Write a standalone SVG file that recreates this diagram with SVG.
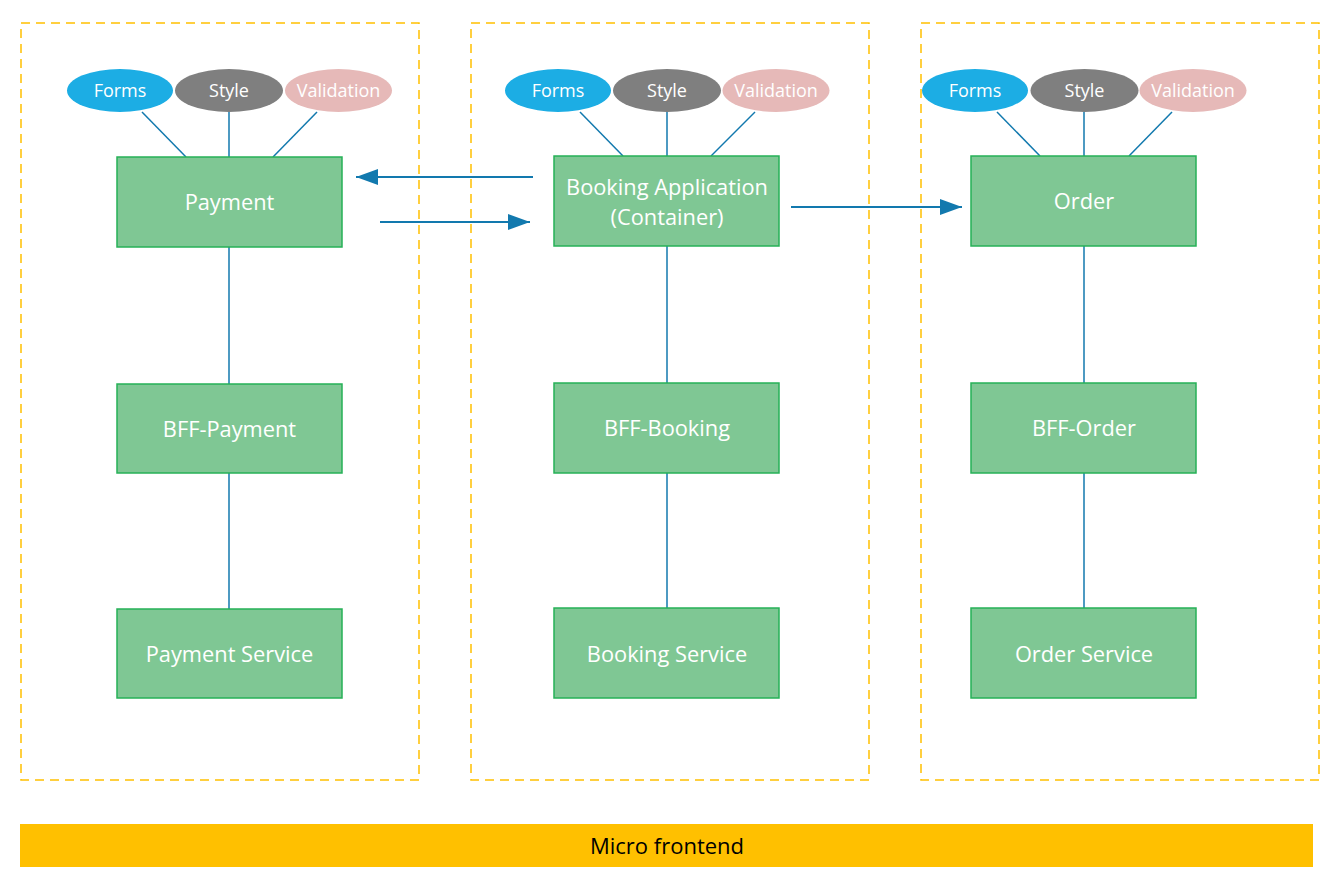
<svg xmlns="http://www.w3.org/2000/svg" width="1334" height="888" viewBox="0 0 1334 888">
<defs>
<marker id="ah" viewBox="0 0 22 16" refX="22" refY="8" markerWidth="22" markerHeight="16" markerUnits="userSpaceOnUse" orient="auto">
<path d="M0,0 L22,8 L0,16 Z" fill="#1279AE"/>
</marker>
<style>
.zone{fill:none;stroke:#FFC000;stroke-width:1.5;stroke-dasharray:9 6}
.box{fill:#7FC794;stroke:#26B157;stroke-width:1.5}
.bt{font-family:"Open Sans",Lato,"Liberation Sans",sans-serif;font-size:21.8px;fill:#FFFFFF;text-anchor:middle}
.et{font-family:"Open Sans",Lato,"Liberation Sans",sans-serif;font-size:18px;fill:#FFFFFF;text-anchor:middle}
.forms{fill:#1CADE4}
.style{fill:#7F7F7F}
.valid{fill:#E6B9B8}
.ln{stroke:#1279AE;stroke-width:1.5;fill:none}
.arr{stroke:#1279AE;stroke-width:2;fill:none;marker-end:url(#ah)}
</style>
</defs>
<rect width="1334" height="888" fill="#FFFFFF"/>
<g id="zones">
<rect class="zone" x="21" y="23" width="398" height="757"/>
<rect class="zone" x="471" y="23" width="398" height="757"/>
<rect class="zone" x="921" y="23" width="398" height="757"/>
</g>
<g id="connectors">
<line class="ln" x1="142" y1="112" x2="186" y2="157"/>
<line class="ln" x1="229" y1="112" x2="229" y2="157"/>
<line class="ln" x1="317" y1="112" x2="273" y2="157"/>
<line class="ln" x1="580" y1="112" x2="623" y2="156"/>
<line class="ln" x1="667" y1="112" x2="667" y2="156"/>
<line class="ln" x1="755" y1="112" x2="711" y2="156"/>
<line class="ln" x1="997" y1="112" x2="1040" y2="156"/>
<line class="ln" x1="1084" y1="112" x2="1084" y2="156"/>
<line class="ln" x1="1172" y1="112" x2="1129" y2="156"/>
<line class="ln" x1="229" y1="247" x2="229" y2="384"/>
<line class="ln" x1="229" y1="473" x2="229" y2="609"/>
<line class="ln" x1="667" y1="246" x2="667" y2="383"/>
<line class="ln" x1="667" y1="473" x2="667" y2="608"/>
<line class="ln" x1="1084" y1="246" x2="1084" y2="383"/>
<line class="ln" x1="1084" y1="473" x2="1084" y2="608"/>
<line class="arr" x1="533" y1="177" x2="356" y2="177"/>
<line class="arr" x1="380" y1="222" x2="530" y2="222"/>
<line class="arr" x1="791" y1="207" x2="962" y2="207"/>
</g>
<g id="payment-forms"><ellipse class="forms" cx="120" cy="90.5" rx="53" ry="21.5"/><text class="et" x="120" y="97">Forms</text></g>
<g id="payment-style"><ellipse class="style" cx="229" cy="90.5" rx="54" ry="21.5"/><text class="et" x="229" y="97">Style</text></g>
<g id="payment-validation"><ellipse class="valid" cx="338.5" cy="90.5" rx="53.5" ry="21.5"/><text class="et" x="338.5" y="97">Validation</text></g>
<g id="booking-forms"><ellipse class="forms" cx="558" cy="90.5" rx="53" ry="21.5"/><text class="et" x="558" y="97">Forms</text></g>
<g id="booking-style"><ellipse class="style" cx="667" cy="90.5" rx="54" ry="21.5"/><text class="et" x="667" y="97">Style</text></g>
<g id="booking-validation"><ellipse class="valid" cx="776" cy="90.5" rx="53.5" ry="21.5"/><text class="et" x="776" y="97">Validation</text></g>
<g id="order-forms"><ellipse class="forms" cx="975" cy="90.5" rx="53" ry="21.5"/><text class="et" x="975" y="97">Forms</text></g>
<g id="order-style"><ellipse class="style" cx="1084.5" cy="90.5" rx="54" ry="21.5"/><text class="et" x="1084.5" y="97">Style</text></g>
<g id="order-validation"><ellipse class="valid" cx="1193" cy="90.5" rx="53.5" ry="21.5"/><text class="et" x="1193" y="97">Validation</text></g>
<g id="payment"><rect class="box" x="117" y="157" width="225" height="90"/><text class="bt" x="229.5" y="210">Payment</text></g>
<g id="bff-payment"><rect class="box" x="117" y="384" width="225" height="89"/><text class="bt" x="229.5" y="437">BFF-Payment</text></g>
<g id="payment-service"><rect class="box" x="117" y="609" width="225" height="89"/><text class="bt" x="229.5" y="662">Payment Service</text></g>
<g id="booking-app"><rect class="box" x="554" y="156" width="225" height="90"/><text class="bt" x="667" y="195">Booking Application</text><text class="bt" x="667" y="225">(Container)</text></g>
<g id="bff-booking"><rect class="box" x="554" y="383" width="225" height="90"/><text class="bt" x="667" y="436">BFF-Booking</text></g>
<g id="booking-service"><rect class="box" x="554" y="608" width="225" height="90"/><text class="bt" x="667" y="662">Booking Service</text></g>
<g id="order"><rect class="box" x="971" y="156" width="225" height="90"/><text class="bt" x="1084" y="209">Order</text></g>
<g id="bff-order"><rect class="box" x="971" y="383" width="225" height="90"/><text class="bt" x="1084" y="436">BFF-Order</text></g>
<g id="order-service"><rect class="box" x="971" y="608" width="225" height="90"/><text class="bt" x="1084" y="662">Order Service</text></g>
<g id="micro-frontend"><rect x="20" y="824" width="1293" height="43" fill="#FFC000"/><text x="667" y="854" font-family="'Open Sans',Lato,'Liberation Sans',sans-serif" font-size="22" fill="#000000" text-anchor="middle">Micro frontend</text></g>
</svg>
